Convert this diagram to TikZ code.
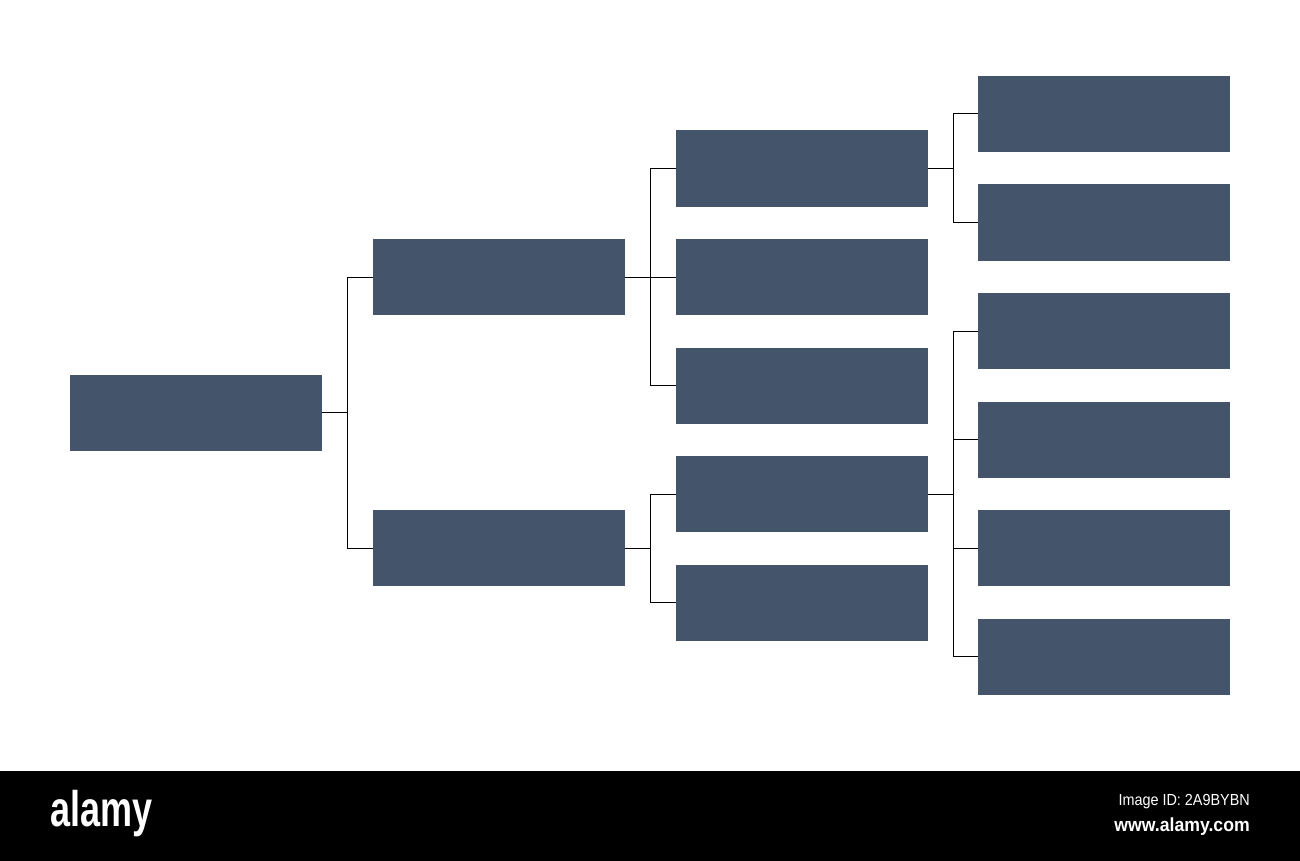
\documentclass[tikz,border=0pt]{standalone}
\usepackage{fontspec}
\setmainfont{Liberation Sans}
\usepackage{xcolor}
\usepackage{graphicx}
\usepackage{tikz}
\usetikzlibrary{positioning}

\definecolor{slate}{RGB}{68,84,106}

\begin{document}
\begin{tikzpicture}[x=1pt,y=1pt,
box/.style={fill=slate,rectangle,minimum width=252pt,minimum height=76pt,inner sep=0pt,outer sep=0pt},
link/.style={draw=black,line width=1pt},
node distance=32.5pt]
\useasboundingbox (0,0) rectangle (1300,-861);
% tree
\node (root) [box] at (195.5,-412.5) {};
\node (mida) [box] at (498.5,-277) {};
\node (midb) [box] at (498.5,-548) {};
\node (leafb) [box,right=51.5pt of mida] {};
\node (leafa) [box,above=of leafb] {};
\node (leafc) [box,below=of leafb] {};
\node (leafd) [box,below=of leafc] {};
\node (leafe) [box,below=of leafd] {};
\node (tipa) [box] at (1104,-114) {};
\node (tipb) [box,below=of tipa] {};
\node (tipc) [box,below=of tipb] {};
\node (tipd) [box,below=of tipc] {};
\node (tipe) [box,below=of tipd] {};
\node (tipf) [box,below=of tipe] {};
% connectors
\draw [link] (root.east) -- +(26pt,0) coordinate (forka);
\draw [link] (forka) |- (mida.west);
\draw [link] (forka) |- (midb.west);
\draw [link] (mida.east) -- +(26pt,0) coordinate (forkb);
\foreach \t in {leafa,leafb,leafc}
  \draw [link] (forkb) |- (\t.west);
\draw [link] (midb.east) -- +(26pt,0) coordinate (forkc);
\foreach \t in {leafd,leafe}
  \draw [link] (forkc) |- (\t.west);
\draw [link] (leafa.east) -- +(25.5pt,0) coordinate (forkd);
\foreach \t in {tipa,tipb}
  \draw [link] (forkd) |- (\t.west);
\draw [link] (leafd.east) -- +(25.5pt,0) coordinate (forke);
\foreach \t in {tipc,tipd,tipe,tipf}
  \draw [link] (forke) |- (\t.west);
% footer bar
\fill [black] (0,-771) rectangle (1300,-861);
\node (logo) [white,inner sep=0pt,anchor=west] at (50,-814)
  {\scalebox{0.72}[1]{\fontsize{50}{50}\selectfont\bfseries alamy}};
\node (imgid) [white,inner sep=0pt,anchor=east] at (1250,-802)
  {\scalebox{0.9}[1]{\fontsize{16}{16}\selectfont Image ID: 2A9BYBN}};
\node (site) [white,inner sep=0pt,anchor=east] at (1250,-827)
  {\scalebox{0.93}[1]{\fontsize{19}{19}\selectfont\bfseries www.alamy.com}};
\end{tikzpicture}
\end{document}
